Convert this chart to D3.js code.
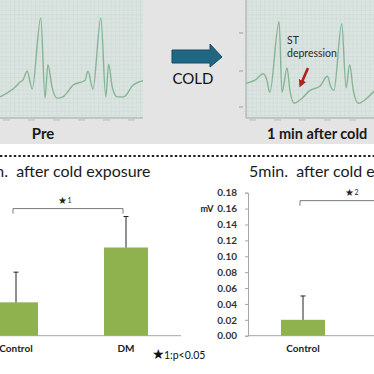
<!DOCTYPE html>
<html>
<head>
<meta charset="utf-8">
<script src="https://cdn.jsdelivr.net/npm/d3@7/dist/d3.min.js"></script>
<style>
    body { margin: 0; background: #fff; }
    #vis { width: 374px; height: 374px; display: block; font-family: Lato, "Open Sans", sans-serif; }
</style>
</head>
<body>
<svg id="vis" width="374" height="374"></svg>
<script>
// ECG traces: [time (s), amplitude]
const preECG = [
    [0, -0.23], [0.21, -0.08], [0.28, 0], [0.32, 0.03], [0.38, 0.17], [0.45, -0.11],
    [0.57, 1.0], [0.63, -0.25], [0.67, 0.27], [0.73, -0.09], [0.80, -0.25], [0.88, -0.23],
    [1.02, -0.05], [1.19, 0.03], [1.23, 0.17], [1.30, -0.11], [1.41, 1.0], [1.48, -0.23],
    [1.52, 0.28], [1.57, -0.08], [1.64, -0.23], [1.73, -0.23], [1.86, -0.05], [2.0, 0.02]
];
const coldECG = [
    [0, -0.02], [0.06, 0], [0.125, 0.03], [0.24, 0.13], [0.29, 0.03], [0.33, -0.16],
    [0.46, 0.94], [0.50, -0.16], [0.57, 0.22], [0.61, -0.13], [0.67, -0.33], [0.75, -0.28],
    [0.89, -0.13], [1.03, -0.06], [1.13, 0.09], [1.18, -0.08], [1.22, -0.13], [1.33, 0.91],
    [1.39, -0.09], [1.44, 0.27], [1.49, -0.13], [1.56, -0.33], [1.68, -0.25], [1.78, -0.14],
    [1.89, -0.05]
];

// ST depression (mV)
const groups = ["Control", "DM"];
const oneMinMean = [0.042, 0.111];
const oneMinErr = [0.080, 0.150];
const fiveMinMean = [0.020, 0.150];
const fiveMinErr = [0.050, 0.180];
const yTicks = [0, 0.02, 0.04, 0.06, 0.08, 0.10, 0.12, 0.14, 0.16, 0.18];
const bracketLevel = [0.16, 0.17];
const starText = ["1", "2"];

const svg = d3.select('#vis');
const WIDTH = 374, HEIGHT = 374;
const barColor = "#8fb24f";

// ---------- top: ECG panels ----------
svg.append("rect")
    .attr("x", 0).attr("y", 0)
    .attr("width", WIDTH).attr("height", 144)
    .attr("fill", "#e3e4e3");

var ampScale = d3.scaleLinear().domain([-0.56, 1.28]).range([118, 0]);

function ecgPanel(x0, x1, data, tEnd, yTickMarks) {
    var g = svg.append("g");
    var w = x1 - x0;
    g.append("rect")
        .attr("x", x0).attr("y", 0)
        .attr("width", w).attr("height", 118)
        .attr("fill", "#dbe4e1");
    // grid
    g.selectAll(".gv")
        .data(d3.range(x0 + 2, x1, 4.2))
        .enter().append("line")
        .attr("x1", function (d) { return d; })
        .attr("x2", function (d) { return d; })
        .attr("y1", 0).attr("y2", 118)
        .attr("stroke", "#cbd8d4").attr("stroke-width", 0.5);
    g.selectAll(".gh")
        .data(d3.range(2, 118, 4.2))
        .enter().append("line")
        .attr("y1", function (d) { return d; })
        .attr("y2", function (d) { return d; })
        .attr("x1", x0).attr("x2", x1)
        .attr("stroke", "#cbd8d4").attr("stroke-width", 0.5);

    var xs = d3.scaleLinear().domain([0, tEnd]).range([x0, x1]);
    var line = d3.line()
        .x(function (d) { return xs(d[0]); })
        .y(function (d) { return ampScale(d[1]); })
        .curve(d3.curveMonotoneX);
    g.append("path")
        .datum(data)
        .attr("d", line)
        .attr("fill", "none")
        .attr("stroke", "#86b595")
        .attr("stroke-width", 1.4);

    // bottom axis
    g.append("line")
        .attr("x1", x0).attr("x2", x1)
        .attr("y1", 118).attr("y2", 118)
        .attr("stroke", "#9fa8a5");
    g.selectAll(".bt")
        .data(d3.range(x0 + 3, x1, 25))
        .enter().append("line")
        .attr("x1", function (d) { return d; })
        .attr("x2", function (d) { return d + 7; })
        .attr("y1", 120).attr("y2", 120)
        .attr("stroke", "#b8bdbb").attr("stroke-width", 1);
    if (yTickMarks) {
        g.append("line")
            .attr("x1", x0).attr("x2", x0)
            .attr("y1", 0).attr("y2", 118)
            .attr("stroke", "#9fa8a5");
        g.selectAll(".yt")
            .data(yTickMarks)
            .enter().append("line")
            .attr("x1", x0 - 7).attr("x2", x0 - 3)
            .attr("y1", function (d) { return d; })
            .attr("y2", function (d) { return d; })
            .attr("stroke", "#9aa09e");
    }
    return xs;
}

ecgPanel(0, 143, preECG, 2.0, null);
ecgPanel(246, 390, coldECG, 2.0, [33, 71, 107]);

svg.append("text")
    .attr("x", 43).attr("y", 139)
    .attr("text-anchor", "middle")
    .attr("font-size", 15).attr("font-weight", "bold")
    .attr("fill", "#1a1a1a")
    .text("Pre");
svg.append("text")
    .attr("x", 267).attr("y", 139)
    .attr("font-size", 14.5).attr("font-weight", "bold")
    .attr("fill", "#1a1a1a")
    .text("1 min after cold");

// COLD arrow
svg.append("path")
    .attr("d", "M172,50 L210,50 L210,44 L222,57 L210,67 L210,63 L172,63 Z")
    .attr("fill", "#1f6782")
    .attr("stroke", "#164c60")
    .attr("stroke-width", 1);
svg.append("text")
    .attr("x", 193).attr("y", 84)
    .attr("text-anchor", "middle")
    .attr("font-size", 15)
    .attr("fill", "#111")
    .text("COLD");

// ST depression label + red arrow
svg.append("text")
    .attr("x", 287).attr("y", 44)
    .attr("font-size", 10.5).attr("fill", "#2a2a2a")
    .text("ST");
svg.append("text")
    .attr("x", 287).attr("y", 57)
    .attr("font-size", 10.5).attr("fill", "#2a2a2a")
    .text("depression");
svg.append("defs").append("marker")
    .attr("id", "redhead")
    .attr("viewBox", "0 0 10 10")
    .attr("refX", 5).attr("refY", 5)
    .attr("markerWidth", 3).attr("markerHeight", 3)
    .attr("orient", "auto")
    .append("path")
    .attr("d", "M0,0 L10,5 L0,10 Z")
    .attr("fill", "#b3231d");
svg.append("line")
    .attr("x1", 308).attr("y1", 68)
    .attr("x2", 301).attr("y2", 84)
    .attr("stroke", "#b3231d")
    .attr("stroke-width", 2.6)
    .attr("marker-end", "url(#redhead)");

// dotted separator
svg.append("line")
    .attr("x1", 0).attr("x2", WIDTH)
    .attr("y1", 156).attr("y2", 156)
    .attr("stroke", "#222")
    .attr("stroke-width", 2.2)
    .attr("stroke-dasharray", "2.4,2.2");

// ---------- bottom: bar charts ----------
var y = d3.scaleLinear().domain([0, 0.18]).range([335.7, 192.7]);

function barChart(axisX, titleX, means, errs, level, star, title) {
    var g = svg.append("g");
    var x = d3.scaleBand()
        .domain(groups)
        .range([axisX, axisX + 220])
        .paddingInner(0.6)
        .paddingOuter(0.3);

    g.append("text")
        .attr("x", titleX).attr("y", 177)
        .attr("font-size", 16).attr("fill", "#1a1a1a")
        .attr("xml:space", "preserve")
        .text(title);

    // baseline
    g.append("line")
        .attr("x1", axisX).attr("x2", axisX + 220)
        .attr("y1", y(0)).attr("y2", y(0))
        .attr("stroke", "#a6a6a6");

    g.selectAll(".bar")
        .data(means)
        .enter().append("rect")
        .attr("x", function (d, i) { return x(groups[i]); })
        .attr("y", function (d) { return y(d); })
        .attr("width", x.bandwidth())
        .attr("height", function (d) { return y(0) - y(d); })
        .attr("fill", barColor);

    // error bars
    g.selectAll(".err")
        .data(errs)
        .enter().append("path")
        .attr("d", function (d, i) {
            var cx = x(groups[i]) + x.bandwidth() / 2;
            return "M" + cx + "," + y(means[i]) + "V" + y(d) +
                "M" + (cx - 2.5) + "," + y(d) + "H" + (cx + 2.5);
        })
        .attr("stroke", "#222")
        .attr("stroke-width", 1)
        .attr("fill", "none");

    g.selectAll(".lab")
        .data(groups)
        .enter().append("text")
        .attr("x", function (d) { return x(d) + x.bandwidth() / 2; })
        .attr("y", 352)
        .attr("text-anchor", "middle")
        .attr("font-size", 10).attr("font-weight", "bold")
        .attr("fill", "#222")
        .text(function (d) { return d; });

    // significance bracket
    var bx0 = x(groups[0]) + x.bandwidth() / 2 - 3;
    var bx1 = x(groups[1]) + x.bandwidth() / 2 - 3;
    g.append("path")
        .attr("d", "M" + bx0 + "," + (y(level) + 5) + "V" + y(level) +
            "H" + bx1 + "V" + (y(level) + 5))
        .attr("fill", "none")
        .attr("stroke", "#7a7a7a")
        .attr("stroke-width", 1);
    var st = g.append("text")
        .attr("x", (bx0 + bx1) / 2 - 3).attr("y", y(level) - 5)
        .attr("text-anchor", "middle")
        .attr("fill", "#222");
    st.append("tspan").attr("font-size", 10).text("★");
    st.append("tspan").attr("font-size", 7).attr("dy", -1).text(star);

    return x;
}

barChart(-39, -31, oneMinMean, oneMinErr, bracketLevel[0], starText[0], "1min.  after cold exposure");
barChart(248, 249, fiveMinMean, fiveMinErr, bracketLevel[1], starText[1], "5min.  after cold exposure");

// y axis for the 5min chart
var yAxis = d3.axisLeft(y)
    .tickValues(yTicks)
    .tickFormat(d3.format(".2f"))
    .tickSize(3)
    .tickPadding(8);
var ax = svg.append("g")
    .attr("transform", "translate(248,0)")
    .call(yAxis);
ax.select(".domain").attr("stroke", "#a6a6a6");
ax.selectAll(".tick line").attr("stroke", "#a6a6a6");
ax.selectAll(".tick text")
    .attr("font-size", 10)
    .attr("font-weight", "bold")
    .attr("font-family", "Lato, sans-serif")
    .attr("fill", "#333");
svg.append("text")
    .attr("x", 207).attr("y", 212)
    .attr("text-anchor", "middle")
    .attr("font-size", 9).attr("font-weight", "bold")
    .attr("fill", "#222")
    .text("mV");

// footnote
var fn = svg.append("text")
    .attr("x", 152).attr("y", 359)
    .attr("fill", "#111");
fn.append("tspan").attr("font-size", 14).text("★");
fn.append("tspan").attr("font-size", 10.5).attr("dx", -1).text("1:p<0.05");
</script>
</body>
</html>
